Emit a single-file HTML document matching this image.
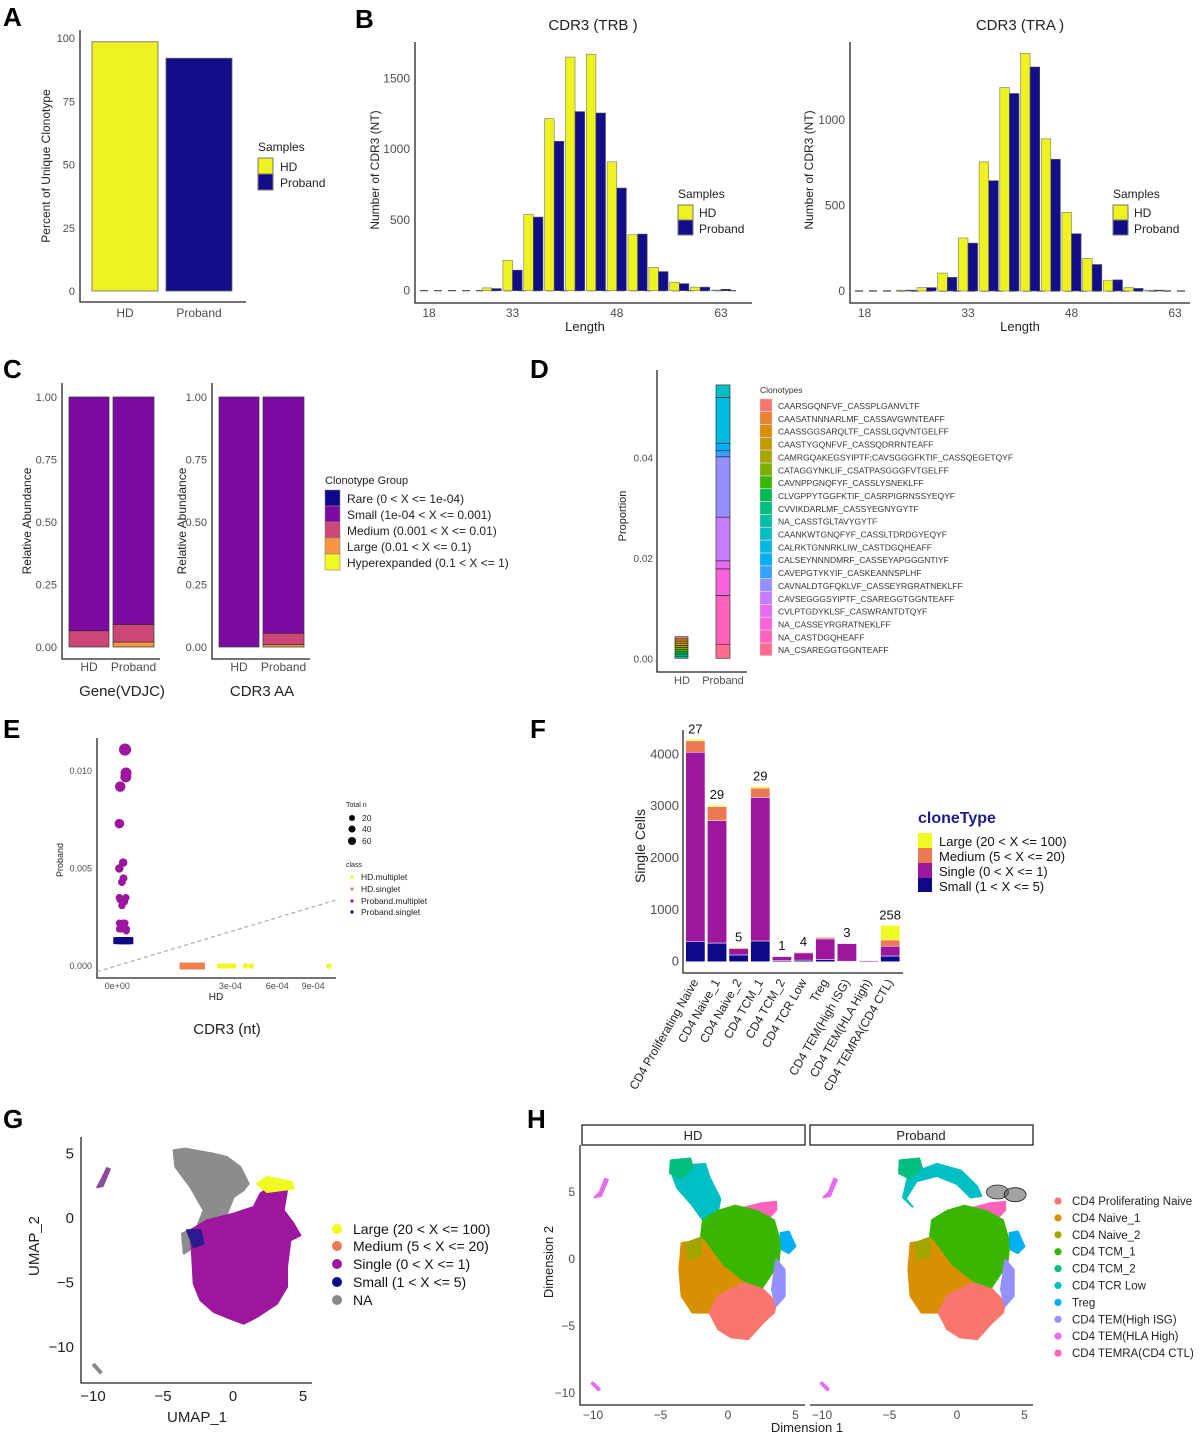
<!DOCTYPE html>
<html><head><meta charset="utf-8"><style>
html,body{margin:0;padding:0;background:#fff}
svg{display:block;font-family:"Liberation Sans",Arial,sans-serif}
</style></head><body>
<svg id="fig" width="1200" height="1440" viewBox="0 0 1200 1440" xmlns="http://www.w3.org/2000/svg">
<rect x="0" y="0" width="1200" height="1440" fill="#fff"/>
<g font-weight="bold" font-size="26" fill="#000">
<text x="3" y="26">A</text>
<text x="355" y="28">B</text>
<text x="3" y="378">C</text>
<text x="530" y="378">D</text>
<text x="3" y="738">E</text>
<text x="530" y="738">F</text>
<text x="3" y="1128">G</text>
<text x="527" y="1128">H</text>
</g>
<g stroke="#222" stroke-width="1.3" fill="none">
<path d="M80 30 V302 H246"/>
<path d="M415 42 V303 H752"/>
<path d="M850 42 V303 H1190"/>
<path d="M62 383 V659 H160"/>
<path d="M212 383 V659 H310"/>
<path d="M657 370 V672 H747"/>
<path d="M97 738 V978 H336"/>
<path d="M683 730 V973 H903"/>
<path d="M81 1137 V1383 H312"/>
<path d="M580 1145 V1405 H805"/>
<path d="M810 1405 H1033"/>
</g>
<g fill="#222" font-size="13">
<text x="593" y="30" text-anchor="middle" font-size="15">CDR3 (TRB )</text>
<text x="1020" y="30" text-anchor="middle" font-size="15">CDR3 (TRA )</text>
<text transform="translate(50,166) rotate(-90)" text-anchor="middle" font-size="12">Percent of Unique Clonotype</text>
<text transform="translate(379,170) rotate(-90)" text-anchor="middle" font-size="12">Number of CDR3 (NT)</text>
<text transform="translate(813,170) rotate(-90)" text-anchor="middle" font-size="12">Number of CDR3 (NT)</text>
<text x="585" y="331" text-anchor="middle">Length</text>
<text x="1020" y="331" text-anchor="middle">Length</text>
<text transform="translate(31,521) rotate(-90)" text-anchor="middle" font-size="12">Relative Abundance</text>
<text transform="translate(186,521) rotate(-90)" text-anchor="middle" font-size="12">Relative Abundance</text>
<text x="122" y="696" text-anchor="middle" font-size="15">Gene(VDJC)</text>
<text x="262" y="696" text-anchor="middle" font-size="15">CDR3 AA</text>
<text transform="translate(626,516) rotate(-90)" text-anchor="middle" font-size="11">Proportion</text>
<text transform="translate(63,860) rotate(-90)" text-anchor="middle" font-size="9">Proband</text>
<text x="216" y="1000" text-anchor="middle" font-size="10">HD</text>
<text x="227" y="1034" text-anchor="middle" font-size="15">CDR3 (nt)</text>
<text transform="translate(645,846) rotate(-90)" text-anchor="middle" font-size="14">Single Cells</text>
<text transform="translate(39,1246) rotate(-90)" text-anchor="middle" font-size="15">UMAP_2</text>
<text x="197" y="1422" text-anchor="middle" font-size="15">UMAP_1</text>
<text transform="translate(553,1262) rotate(-90)" text-anchor="middle" font-size="13">Dimension 2</text>
<text x="807" y="1432" text-anchor="middle" font-size="13">Dimension 1</text>
</g>
<g font-size="12" fill="#222">
<text x="258" y="151">Samples</text>
<rect x="258" y="158" width="15" height="16" fill="#eef21f" stroke="#777"/>
<rect x="258" y="174" width="15" height="16" fill="#120e8a" stroke="#777"/>
<text x="280" y="171">HD</text>
<text x="280" y="187">Proband</text>
</g>
<g font-size="12" fill="#222">
<text x="678" y="198">Samples</text>
<rect x="678" y="205" width="15" height="15" fill="#eef21f" stroke="#777"/>
<rect x="678" y="220" width="15" height="15" fill="#120e8a" stroke="#777"/>
<text x="699" y="217">HD</text>
<text x="699" y="233">Proband</text>
</g>
<g font-size="12" fill="#222">
<text x="1113" y="198">Samples</text>
<rect x="1113" y="205" width="15" height="15" fill="#eef21f" stroke="#777"/>
<rect x="1113" y="220" width="15" height="15" fill="#120e8a" stroke="#777"/>
<text x="1134" y="217">HD</text>
<text x="1134" y="233">Proband</text>
</g>
<g id="legC" font-size="12" fill="#222">
<text x="325" y="484" font-size="11">Clonotype Group</text>
</g>
<g id="legD" font-size="8.5" fill="#333">
<text x="760" y="393">Clonotypes</text>
</g>
<g font-size="8.5" fill="#222">
<text x="346" y="807" font-size="7">Total n</text>
<circle cx="352" cy="818" r="3" fill="#000"/>
<circle cx="352" cy="829" r="3.5" fill="#000"/>
<circle cx="352" cy="841" r="4" fill="#000"/>
<text x="362" y="821">20</text>
<text x="362" y="832">40</text>
<text x="362" y="844">60</text>
<text x="346" y="867" font-size="7">class</text>
<circle cx="352" cy="877" r="1.6" fill="#f0f921"/>
<circle cx="352" cy="889" r="1.6" fill="#f07f4f"/>
<circle cx="352" cy="901" r="1.6" fill="#9c179e"/>
<circle cx="352" cy="912" r="1.6" fill="#0d0887"/>
<text x="361" y="880">HD.multiplet</text>
<text x="361" y="892">HD.singlet</text>
<text x="361" y="904">Proband.multiplet</text>
<text x="361" y="915">Proband.singlet</text>
</g>
<g font-size="13" fill="#111">
<text x="918" y="823" font-size="16" font-weight="bold" fill="#1c1c8c">cloneType</text>
<rect x="918" y="833" width="14" height="15" fill="#f0f921"/>
<rect x="918" y="848" width="14" height="15" fill="#ed7953"/>
<rect x="918" y="863" width="14" height="15" fill="#9c179e"/>
<rect x="918" y="878" width="14" height="14" fill="#0d0887"/>
<text x="939" y="846">Large (20 &lt; X &lt;= 100)</text>
<text x="939" y="861">Medium (5 &lt; X &lt;= 20)</text>
<text x="939" y="876">Single (0 &lt; X &lt;= 1)</text>
<text x="939" y="891">Small (1 &lt; X &lt;= 5)</text>
</g>
<g font-size="14" fill="#111">
<circle cx="337" cy="1229" r="5" fill="#f0f921"/>
<circle cx="337" cy="1246" r="5" fill="#ed7953"/>
<circle cx="337" cy="1264" r="5" fill="#9c179e"/>
<circle cx="337" cy="1282" r="5" fill="#0d0887"/>
<circle cx="337" cy="1300" r="5" fill="#888"/>
<text x="353" y="1234">Large (20 &lt; X &lt;= 100)</text>
<text x="353" y="1251">Medium (5 &lt; X &lt;= 20)</text>
<text x="353" y="1269">Single (0 &lt; X &lt;= 1)</text>
<text x="353" y="1287">Small (1 &lt; X &lt;= 5)</text>
<text x="353" y="1305">NA</text>
</g>
<g id="legH" font-size="11.5" fill="#222"></g>
<g>
<rect x="582" y="1125" width="223" height="20" fill="#fff" stroke="#222" stroke-width="1.3"/>
<rect x="810" y="1125" width="223" height="20" fill="#fff" stroke="#222" stroke-width="1.3"/>
<text x="693" y="1140" text-anchor="middle" font-size="13" fill="#222">HD</text>
<text x="921" y="1140" text-anchor="middle" font-size="13" fill="#222">Proband</text>
</g>
<g id="marks"></g>
</svg>
<script>
// ---------- data ----------
const aSamples = ['HD', 'Proband'];
const aPercent = [98.5, 92];
const aTicks = [0, 25, 50, 75, 100];

const lengths = [24, 27, 30, 33, 36, 39, 42, 45, 48, 51, 54, 57, 60, 63];
const trbHD = [0, 0, 20, 215, 540, 1215, 1650, 1670, 910, 395, 165, 60, 25, 5];
const trbProband = [0, 0, 15, 145, 520, 1055, 1265, 1255, 725, 400, 135, 50, 25, 10];
const traHD = [5, 20, 105, 310, 755, 1190, 1390, 890, 460, 190, 60, 20, 5, 0];
const traProband = [5, 20, 80, 280, 645, 1155, 1310, 770, 335, 155, 65, 15, 5, 0];
const lengthTicks = [18, 33, 48, 63];
const trbTicks = [0, 500, 1000, 1500];
const traTicks = [0, 500, 1000];

const cGroups = ['Rare (0 < X <= 1e-04)', 'Small (1e-04 < X <= 0.001)', 'Medium (0.001 < X <= 0.01)', 'Large (0.01 < X <= 0.1)', 'Hyperexpanded (0.1 < X <= 1)'];
const cGeneHD = [0, 0.935, 0.065, 0, 0];
const cGeneProband = [0, 0.91, 0.07, 0.02, 0];
const cAaHD = [0, 1.0, 0, 0, 0];
const cAaProband = [0, 0.945, 0.045, 0.01, 0];
const cTicks = [0, 0.25, 0.5, 0.75, 1.0];
const cTickLabels = ['0.00', '0.25', '0.50', '0.75', '1.00'];

const dClonotypes = ['CAARSGQNFVF_CASSPLGANVLTF','CAASATNNNARLMF_CASSAVGWNTEAFF','CAASSGGSARQLTF_CASSLGQVNTGELFF','CAASTYGQNFVF_CASSQDRRNTEAFF','CAMRGQAKEGSYIPTF;CAVSGGGFKTIF_CASSQEGETQYF','CATAGGYNKLIF_CSATPASGGGFVTGELFF','CAVNPPGNQFYF_CASSLYSNEKLFF','CLVGPPYTGGFKTIF_CASRPIGRNSSYEQYF','CVVIKDARLMF_CASSYEGNYGYTF','NA_CASSTGLTAVYGYTF','CAANKWTGNQFYF_CASSLTDRDGYEQYF','CALRKTGNNRKLIW_CASTDGQHEAFF','CALSEYNNNDMRF_CASSEYAPGGGNTIYF','CAVEPGTYKYIF_CASKEANNSPLHF','CAVNALDTGFQKLVF_CASSEYRGRATNEKLFF','CAVSEGGGSYIPTF_CSAREGGTGGNTEAFF','CVLPTGDYKLSF_CASWRANTDTQYF','NA_CASSEYRGRATNEKLFF','NA_CASTDGQHEAFF','NA_CSAREGGTGGNTEAFF'];
const dColors = ['#F8766D','#EA8331','#D89000','#C09B00','#A3A500','#7CAE00','#39B600','#00BB4E','#00BF7D','#00C1A3','#00BFC4','#00BAE0','#00B0F6','#35A2FF','#9590FF','#C77CFF','#E76BF3','#FA62DB','#FF62BC','#FF6C91'];
const dHD = [0.00043,0.00043,0.00043,0.00043,0.00043,0.00043,0.00043,0.00043,0.00043,0.00043,0,0,0,0,0,0,0,0,0,0];
const dProband = [0,0,0,0,0,0,0,0,0,0,0.0025,0.0091,0.0015,0.0012,0.012,0.0087,0.0016,0.0053,0.0097,0.0028];
const dTicks = [0, 0.02, 0.04];
const dTickLabels = ['0.00', '0.02', '0.04'];

const eHD = [0.0000014,0.0000002,0.0000017,0.0000018,0.0000001,0.0000008,0.0000001,0.0000005,0.0000009,0.0000001,0.0000017,0.0000002,0.0000012,0.0000005,0.0000001,0.0000008,0.0000014,0.0000019,0.0000001,0.0000006,0.0000013,0.0000020,0.0000003,
 0,0.0000002,0.0000005,0.0000009,0.0000014,0.0000020,0.0000027,0.0000034,
 0.000103,0.000113,0.000124,0.000135,0.000147,0.000160,
 0.000245,0.000262,0.000280,0.000298,0.000318,0.000385,0.000420,0.00105];
const eProband = [0.0111,0.0092,0.0097,0.0099,0.0073,0.0053,0.0050,0.0043,0.0045,0.0035,0.0035,0.0034,0.0033,0.0031,0.0022,0.0022,0.0022,0.0018,0.0019,0.0019,0.0019,0.0019,0.0019,
 0.0013,0.0013,0.0013,0.0013,0.0013,0.0013,0.0013,0.0013,
 0,0,0,0,0,0,
 0,0,0,0,0,0,0,0];
const eTotal = [60,40,45,45,30,20,20,15,15,12,12,12,12,12,10,10,10,10,10,10,10,10,10,
 5,5,5,5,5,5,5,5,
 5,5,5,5,5,5,
 6,6,6,6,6,6,6,6];
const eClass = ['PM','PM','PM','PM','PM','PM','PM','PM','PM','PM','PM','PM','PM','PM','PM','PM','PM','PM','PM','PM','PM','PM','PM',
 'PS','PS','PS','PS','PS','PS','PS','PS',
 'HS','HS','HS','HS','HS','HS',
 'HM','HM','HM','HM','HM','HM','HM','HM'];
const eYTicks = [0, 0.005, 0.010];
const eYTickLabels = ['0.000', '0.005', '0.010'];
const eXTicks = [0, 0.0003, 0.0006, 0.0009];
const eXTickLabels = ['0e+00', '3e-04', '6e-04', '9e-04'];

const fClusters = ['CD4 Proliferating Naive','CD4 Naive_1','CD4 Naive_2','CD4 TCM_1','CD4 TCM_2','CD4 TCR Low','Treg','CD4 TEM(High ISG)','CD4 TEM(HLA High)','CD4 TEMRA(CD4 CTL)'];
const fSmall = [385, 360, 130, 400, 20, 30, 40, 10, 0, 110];
const fSingle = [3655, 2360, 120, 2770, 80, 140, 400, 340, 20, 190];
const fMedium = [220, 270, 20, 180, 10, 15, 30, 10, 0, 120];
const fLarge = [30, 30, 5, 30, 0, 0, 0, 0, 0, 280];
const fCounts = ['27', '29', '5', '29', '1', '4', '', '3', '', '258'];
const fTicks = [0, 1000, 2000, 3000, 4000];

const gTicksX = [-10, -5, 0, 5];
const gTicksY = [5, 0, -5, -10];
const gNA = [[-4.24,5.17],[-3.4,5.3],[-1.38,4.91],[-0.43,4.65],[0.52,3.88],[1.12,2.58],[0.76,2.07],[0.05,1.55],[-0.43,0.26],[-1.14,-1.29],[-2.1,-1.55],[-2.81,-2.33],[-3.52,-2.84],[-3.64,-1.29],[-2.57,-0.78],[-2.1,0.52],[-3.05,2.33],[-4.12,3.88]];
const gSingle = [[-3.05,-1.03],[-1.86,-0.26],[0.05,0.26],[1.48,0.78],[1.95,1.81],[2.9,2.58],[3.86,2.07],[3.62,0.52],[4.33,-0.52],[4.81,-1.42],[4.1,-1.81],[3.86,-3.88],[3.86,-5.43],[3.14,-6.72],[1.71,-7.75],[0.76,-8.27],[-0.19,-7.88],[-1.38,-7.36],[-2.33,-6.46],[-2.81,-5.17],[-2.93,-2.84]];
const gLarge = [[1.71,2.58],[2.43,3.1],[3.14,2.97],[4.21,2.71],[4.33,2.2],[3.38,2.07],[2.43,1.94]];
const gSmall = [[-3.29,-1.03],[-2.33,-1.03],[-2.1,-2.07],[-2.81,-2.33]];
const gIsland = [[-9.7,2.3],[-9.3,2.4],[-8.8,3.7],[-9.0,3.8],[-9.4,2.9]];
const gIslandNA = [[-10.0,-11.5],[-9.5,-12.1],[-9.4,-12.0],[-9.9,-11.4]];

const hTypes = ['CD4 Proliferating Naive','CD4 Naive_1','CD4 Naive_2','CD4 TCM_1','CD4 TCM_2','CD4 TCR Low','Treg','CD4 TEM(High ISG)','CD4 TEM(HLA High)','CD4 TEMRA(CD4 CTL)'];
const hColors = ['#F8766D','#D89000','#A3A500','#39B600','#00BF7D','#00BFC4','#00B0F6','#9590FF','#E76BF3','#FF62BC'];
const hTicksX = [-10, -5, 0, 5];
const hTicksY = [5, 0, -5, -10];
const hTcrLowHD = [[-4.2,6.5],[-3.0,7.0],[-1.69,7.1],[-1.37,6.1],[-0.57,4.5],[-0.73,3.6],[-1.85,2.9],[-2.64,4.0],[-3.76,5.3]];
const hTcrLowPro = [[-3.6,6.3],[-1.5,7.1],[0.3,6.6],[1.5,5.4],[1.8,4.7],[1.0,4.6],[0,5.6],[-1.5,6.2],[-3,5.8],[-3.8,4.5],[-3.3,3.9],[-4.0,4.6]];
const hTcm2 = [[-4.24,7.36],[-2.8,7.5],[-2.6,6.8],[-3.5,6.0],[-4.3,6.4]];
const hTcm1 = [[-1.85,2.9],[-0.73,3.6],[0.54,3.98],[2.13,3.6],[3.4,2.9],[3.89,1.19],[3.73,-0.3],[3.1,-1.28],[2.45,-2.27],[1.18,-1.78],[-0.41,-0.54],[-1.85,0.2],[-2.0,1.68]];
const hNaive1 = [[-3.44,1.19],[-1.85,1.43],[-0.41,-0.54],[1.18,-1.78],[-0.73,-2.77],[-1.37,-4.0],[-2.64,-4.0],[-3.44,-2.77],[-3.6,-0.79]];
const hNaive2 = [[-3.1,1.2],[-2.0,1.6],[-2.0,0.2],[-2.96,-0.05]];
const hProlif = [[-1.37,-4.0],[-0.73,-2.77],[1.18,-1.78],[2.61,-2.27],[3.57,-3.26],[3.41,-4.0],[2.61,-4.74],[1.5,-5.98],[0.22,-5.85],[-0.73,-5.23]];
const hTemra = [[0.86,3.75],[2.45,4.15],[3.57,4.27],[3.57,3.65],[3.1,3.16],[1.82,3.16]];
const hTreg = [[3.89,1.93],[4.5,2.05],[4.99,0.94],[4.5,0.44],[4.0,0.7]];
const hIsg = [[3.57,-0.05],[4.2,-0.79],[4.2,-2.77],[3.57,-3.5],[3.25,-2.27]];
const hHla1 = [[-9.9,4.6],[-9.4,4.7],[-8.9,5.9],[-9.1,6.0],[-9.5,5.0]];
const hHla2 = [[-10.1,-9.3],[-9.6,-9.8],[-9.5,-9.7],[-10.0,-9.2]];
const hContours = [[3.0, 5.0], [4.3, 4.8]];

// ---------- helpers ----------
const NS = 'http://www.w3.org/2000/svg';
const root = document.getElementById('marks');
function mk(tag, attrs, parent) {
  const e = document.createElementNS(NS, tag);
  for (const k in attrs) e.setAttribute(k, attrs[k]);
  (parent || root).appendChild(e);
  return e;
}
function tx(x, y, s, attrs, parent) {
  const e = mk('text', attrs, parent);
  e.setAttribute('x', x); e.setAttribute('y', y);
  e.textContent = s;
  return e;
}
const tickCol = '#4d4d4d';

// ---------- A ----------
const yA = v => 291 - v * 2.53;
const xA = i => 92 + i * 74;
aSamples.forEach((s, i) => {
  const r = mk('rect', {x: xA(i), y: yA(aPercent[i]), width: 66, height: yA(0) - yA(aPercent[i]), fill: i ? '#120e8a' : '#eef21f', stroke: '#666', 'stroke-width': 0.8});
  
  
  const t = tx(xA(i) + 33, 317, s, {'text-anchor': 'middle', 'font-size': 12, fill: tickCol});
  
  
});
aTicks.forEach(v => {
  const t = tx(75, yA(v) + 4, String(v), {'text-anchor': 'end', 'font-size': 11, fill: tickCol});
  
  
});

// ---------- B ----------
function drawHist(key, xc, y, hd, pro, yTicks, axX) {
  const z = mk('line', {x1: axX + 5, x2: xc(66) - 5, y1: y(0), y2: y(0), stroke: '#444', 'stroke-width': 1.2, 'stroke-dasharray': '8,6'});
  
  
  lengths.forEach((L, i) => {
    const c = xc(L);
    if (hd[i] > 0) {
      const r1 = mk('rect', {x: c - 9.6, y: y(hd[i]), width: 9.6, height: y(0) - y(hd[i]), fill: '#eef21f', stroke: '#777', 'stroke-width': 0.6});
      
      
    }
    if (pro[i] > 0) {
      const r2 = mk('rect', {x: c, y: y(pro[i]), width: 9.6, height: y(0) - y(pro[i]), fill: '#120e8a', stroke: '#555', 'stroke-width': 0.6});
      
      
    }
  });
  yTicks.forEach(v => {
    const t = tx(axX - 5, y(v) + 4, String(v), {'text-anchor': 'end', 'font-size': 12, fill: tickCol});
    
    
  });
  lengthTicks.forEach(L => {
    const t = tx(Math.max(xc(L), axX + 14), 317, String(L), {'text-anchor': 'middle', 'font-size': 12, fill: tickCol});
    
    
  });
}
drawHist('trb', L => 512.5 + (L - 33) * 6.95, v => 290.7 - v * 0.1416, trbHD, trbProband, trbTicks, 415);
drawHist('tra', L => 968 + (L - 33) * 6.9, v => 291 - v * 0.171, traHD, traProband, traTicks, 850);

// ---------- C ----------
const cColors = ['#0d0887', '#7a0aa0', '#cc4778', '#f89540', '#f0f921'];
const yC = v => 647 - v * 250;
function drawStack(key, x0, w, vals, label) {
  let acc = 0;
  [4, 3, 2, 1, 0].forEach(g => {
    const v = vals[g];
    if (v <= 0) return;
    const r = mk('rect', {x: x0, y: yC(acc + v), width: w, height: v * 250, fill: cColors[g], stroke: '#333', 'stroke-width': 0.7});
    
    
    acc += v;
  });
  const t = tx(x0 + w / 2, 671, label, {'text-anchor': 'middle', 'font-size': 12, fill: tickCol});
  
  
}
drawStack('c-gene-hd', 69, 40, cGeneHD, 'HD');
drawStack('c-gene-proband', 113, 41, cGeneProband, 'Proband');
drawStack('c-aa-hd', 219, 40, cAaHD, 'HD');
drawStack('c-aa-proband', 263, 41, cAaProband, 'Proband');
[57, 207].forEach(ax => {
  cTicks.forEach((v, i) => {
    const t = tx(ax, yC(v) + 4, cTickLabels[i], {'text-anchor': 'end', 'font-size': 11, fill: tickCol});
    
    
  });
});
const legC = document.getElementById('legC');
cGroups.forEach((g, i) => {
  const r = mk('rect', {x: 325, y: 490 + i * 16, width: 15, height: 16, fill: cColors[i], stroke: '#888', 'stroke-width': 0.6}, legC);
  
  
  const t = tx(347, 503 + i * 16, g, {}, legC);
  
  
});

// ---------- D ----------
const yD = v => 658.3 - v * 5025;
function drawDStack(key, x0, w, vals) {
  let acc = 0;
  for (let i = vals.length - 1; i >= 0; i--) {
    const v = vals[i];
    if (v <= 0) continue;
    const r = mk('rect', {x: x0, y: yD(acc + v), width: w, height: v * 5025, fill: dColors[i], stroke: '#222', 'stroke-width': 0.6});
    
    
    acc += v;
  }
}
drawDStack('d-hd', 675, 13, dHD);
drawDStack('d-proband', 716, 14, dProband);
dTicks.forEach((v, i) => {
  const t = tx(653, yD(v) + 4, dTickLabels[i], {'text-anchor': 'end', 'font-size': 10, fill: tickCol});
  
  
});
[['HD', 682], ['Proband', 723]].forEach(p => {
  const t = tx(p[1], 684, p[0], {'text-anchor': 'middle', 'font-size': 11, fill: tickCol});
  
  
});
const legD = document.getElementById('legD');
dClonotypes.forEach((c, i) => {
  const r = mk('rect', {x: 760, y: 399 + i * 12.85, width: 12, height: 12.4, fill: dColors[i], stroke: '#ccc', 'stroke-width': 0.4}, legD);
  
  
  const t = tx(778, 409 + i * 12.85, c, {}, legD);
  
  
});

// ---------- E ----------
const xE = v => 117.3 + 65.3 * Math.sqrt(Math.max(v, 0) / 1e-4);
const yE = v => 966 - v * 19500;
const eCol = {PM: '#9c179e', PS: '#0d0887', HS: '#f07f4f', HM: '#f0f921'};
const dl = mk('line', {x1: 97, y1: 971.7, x2: 336, y2: 900, stroke: '#aaa', 'stroke-width': 1.2, 'stroke-dasharray': '4,3'});


eHD.forEach((v, i) => {
  const cls = eClass[i];
  const r = 1.8 + Math.sqrt(eTotal[i]) * 0.55;
  if (cls === 'PS' || cls === 'HS') {
    const b = mk('rect', {x: xE(v) - 4, y: yE(eProband[i]) - 3.5, width: (cls === 'HS' ? 5 : 4) + 4, height: 7, fill: eCol[cls]});
    
    
  } else {
    const c = mk('circle', {cx: xE(v), cy: yE(eProband[i]), r: cls === 'HM' ? 2.8 : r, fill: eCol[cls]});
    
    
  }
});
eYTicks.forEach((v, i) => {
  const t = tx(92, yE(v) + 3, eYTickLabels[i], {'text-anchor': 'end', 'font-size': 9, fill: tickCol});
  
  
});
eXTicks.forEach((v, i) => {
  const t = tx(xE(v), 989, eXTickLabels[i], {'text-anchor': 'middle', 'font-size': 9, fill: tickCol});
  
  
});

// ---------- F ----------
const yF = v => 961.7 - v * 0.05185;
const xF = i => 685.7 + i * 21.65;
const fSeries = [[fSmall, '#0d0887'], [fSingle, '#9c179e'], [fMedium, '#ed7953'], [fLarge, '#f0f921']];
fClusters.forEach((c, i) => {
  let acc = 0;
  fSeries.forEach(([arr, col]) => {
    const v = arr[i];
    if (v <= 0) return;
    const r = mk('rect', {x: xF(i), y: yF(acc + v), width: 19.3, height: v * 0.05185, fill: col, stroke: '#fff', 'stroke-width': 0.5});
    
    
    acc += v;
  });
  if (fCounts[i]) {
    const t = tx(xF(i) + 9.6, yF(acc) - 6, fCounts[i], {'text-anchor': 'middle', 'font-size': 13, fill: '#111'});
    
    
  }
  const lb = mk('text', {transform: `translate(${xF(i) + 13},982) rotate(-60)`, 'text-anchor': 'end', 'font-size': 12, fill: '#222'});
  lb.textContent = c;
  
  
});
fTicks.forEach(v => {
  const t = tx(679, yF(v) + 4, String(v), {'text-anchor': 'end', 'font-size': 13, fill: tickCol});
  
  
});

// ---------- G ----------
const xG = u => 233 + u * 14;
const yG = u => 1217 - u * 12.9;
function poly(pts, fx, fy) { return pts.map(p => fx(p[0]).toFixed(1) + ',' + fy(p[1]).toFixed(1)).join(' '); }
[[gNA, '#8c8c8c', 'g-region-na'], [gSingle, '#9c179e', 'g-region-single'], [gLarge, '#f0f921', 'g-region-large'], [gSmall, '#2a1a8f', 'g-region-small'], [gIsland, '#8a4c9a', 'g-island'], [gIslandNA, '#888', 'g-island-na']].forEach(([pts, col, nm]) => {
  const p = mk('polygon', {points: poly(pts, xG, yG), fill: col, stroke: col, 'stroke-width': 2, 'stroke-linejoin': 'round'});
  
  
});
gTicksX.forEach(v => {
  const t = tx(xG(v), 1401, String(v).replace('-', '\u2212'), {'text-anchor': 'middle', 'font-size': 15, fill: '#222'});
  
  
});
gTicksY.forEach(v => {
  const t = tx(74, yG(v) + 6, String(v).replace('-', '\u2212'), {'text-anchor': 'end', 'font-size': 15, fill: '#222'});
  
  
});

// ---------- H ----------
const yH = u => 1259 - u * 13.4;
[['hd', 728], ['proband', 957]].forEach(([panel, x0]) => {
  const xH = u => x0 + u * 13.5;
  const regions = [
    [panel === 'hd' ? hTcrLowHD : hTcrLowPro, 5], [hTcm2, 4], [hTemra, 9], [hTcm1, 3], [hNaive1, 1], [hNaive2, 2],
    [hProlif, 0], [hTreg, 6], [hIsg, 7], [hHla1, 8], [hHla2, 8]
  ];
  regions.forEach(([pts, ci]) => {
    const p = mk('polygon', {points: poly(pts, xH, yH), fill: hColors[ci], stroke: hColors[ci], 'stroke-width': 2, 'stroke-linejoin': 'round'});
    
    
  });
  if (panel === 'proband') {
    hContours.forEach(c => {
      const e = mk('ellipse', {cx: xH(c[0]), cy: yH(c[1]), rx: 11, ry: 7, fill: '#555', 'fill-opacity': 0.55, stroke: '#222', 'stroke-width': 0.8});
      
      
    });
  }
  hTicksX.forEach(v => {
    const t = tx(xH(v), 1419, String(v).replace('-', '\u2212'), {'text-anchor': 'middle', 'font-size': 12, fill: tickCol});
    
    
  });
});
hTicksY.forEach(v => {
  const t = tx(575, yH(v) + 4, String(v).replace('-', '\u2212'), {'text-anchor': 'end', 'font-size': 12, fill: tickCol});
  
  
});
const legH = document.getElementById('legH');
hTypes.forEach((h, i) => {
  const c = mk('circle', {cx: 1058, cy: 1201 + i * 16.9, r: 3.6, fill: hColors[i]}, legH);
  
  
  const t = tx(1072, 1205 + i * 16.9, h, {}, legH);
  
  
});
</script>
</body></html>
